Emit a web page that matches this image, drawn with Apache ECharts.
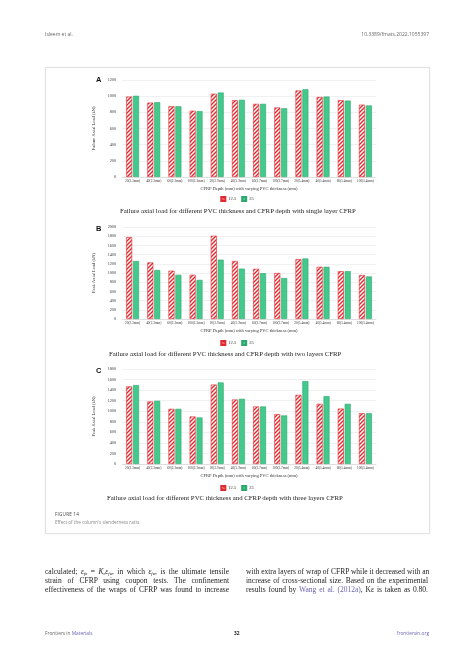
<!DOCTYPE html>
<html lang="en">
<head>
<meta charset="UTF-8">
<title>Figure 14 - slenderness ratio</title>
<script src="https://cdn.jsdelivr.net/npm/echarts@6/dist/echarts.min.js"></script>
<style>
  body { margin: 0; background: #fff; }
  #page { position: relative; width: 474px; height: 670px; overflow: hidden; }
  #chart { position: absolute; left: 0; top: 0; width: 474px; height: 670px; z-index: 1; }
  .box { position: absolute; left: 45px; top: 67px; width: 383px; height: 465px; border: 1px solid #e2e2e2; box-shadow: 0 0 2px rgba(0,0,0,0.06); }
  .t { position: absolute; white-space: nowrap; z-index: 2; }
  .sans { font-family: "Open Sans", "DejaVu Sans", sans-serif; }
  .serif { font-family: "Liberation Serif", "DejaVu Serif", serif; }
  .hdr { top: 31px; font-size: 5px; color: #666; }
  .panel { font-family: "Liberation Sans", Arial, sans-serif; font-weight: bold; font-size: 7.5px; color: #111; }
  .cap { font-size: 6.8px; color: #222; }
  .line { position: absolute; font-family: "Liberation Serif", "DejaVu Serif", serif; font-size: 7.5px; color: #222;
          text-align: justify; text-align-last: justify; white-space: nowrap; z-index: 2; line-height: 9px; }
  .line sub { font-size: 4.8px; vertical-align: -1.2px; line-height: 0; }
  .link { color: #6a66b0; }
  .foot { top: 630px; font-size: 4.8px; color: #666; }
</style>
</head>
<body>
<div id="page">
  <div class="box"></div>
  <div id="chart"></div>

  <div class="t sans hdr" style="left:45px;">Isleem et al.</div>
  <div class="t sans hdr" style="right:45px;">10.3389/fmats.2022.1055397</div>

  <div class="t panel" style="left:96px;top:75px;">A</div>
  <div class="t panel" style="left:96px;top:224px;">B</div>
  <div class="t panel" style="left:96px;top:366px;">C</div>

  <div class="t serif cap" style="left:120px;top:207px;">Failure axial load for different PVC thickness and CFRP depth with single layer CFRP</div>
  <div class="t serif cap" style="left:109px;top:350px;">Failure axial load for different PVC thickness and CFRP depth with two layers CFRP</div>
  <div class="t serif cap" style="left:107px;top:494px;">Failure axial load for different PVC thickness and CFRP depth with three layers CFRP</div>

  <div class="t sans" style="left:55px;top:511px;font-size:4.6px;color:#444;letter-spacing:0.2px;">FIGURE 14</div>
  <div class="t sans" style="left:55px;top:519px;font-size:4.6px;color:#888;">Effect of the column's slenderness ratio.</div>

  <div class="line" style="left:45px;top:567px;width:184px;">calculated; <i>ε<sub>fe</sub></i> = <i>K<sub>ε</sub>ε<sub>fu</sub></i>, in which <i>ε<sub>fu</sub></i>, is the ultimate tensile</div>
  <div class="line" style="left:45px;top:576px;width:184px;">strain of CFRP using coupon tests. The confinement</div>
  <div class="line" style="left:45px;top:585px;width:184px;">effectiveness of the wraps of CFRP was found to increase</div>
  <div class="line" style="left:246px;top:567px;width:182px;">with extra layers of wrap of CFRP while it decreased with an</div>
  <div class="line" style="left:246px;top:576px;width:182px;">increase of cross-sectional size. Based on the experimental</div>
  <div class="line" style="left:246px;top:585px;width:182px;">results found by <span class="link">Wang et al. (2012a)</span>, Kε is taken as 0.80.</div>

  <div class="t sans foot" style="left:45px;">Frontiers in <span class="link">Materials</span></div>
  <div class="t sans foot" style="left:234px;color:#222;font-weight:bold;">32</div>
  <div class="t sans foot" style="right:45px;color:#6a66b0;">frontiersin.org</div>
</div>

<script type="text/javascript">
  // categories: CFRP depth (PVC thickness)
  var cats = ['20(2.3mm)', '40(2.3mm)', '60(2.3mm)', '100(2.3mm)',
              '20(3.7mm)', '40(3.7mm)', '60(3.7mm)', '100(3.7mm)',
              '20(5.4mm)', '40(5.4mm)', '60(5.4mm)', '100(5.4mm)'];
  var seriesNames = ['12.5', '25'];

  // A - single layer CFRP
  var single125 = [995, 920, 875, 820, 1030, 950, 905, 860, 1070, 990, 950, 895];
  var single25  = [1005, 925, 875, 815, 1045, 955, 905, 850, 1085, 995, 945, 885];
  // B - two layers CFRP
  var two125 = [1780, 1230, 1050, 960, 1810, 1260, 1090, 1000, 1300, 1135, 1040, 955];
  var two25  = [1260, 1065, 960, 850, 1290, 1095, 995, 890, 1315, 1135, 1040, 925];
  // C - three layers CFRP
  var three125 = [1470, 1185, 1045, 900, 1505, 1222, 1090, 945, 1310, 1140, 1050, 962];
  var three25  = [1495, 1198, 1045, 882, 1545, 1235, 1090, 920, 1570, 1285, 1140, 962];

  var yMax = [1200, 2000, 1800];
  var yNames = ['Failure Axial Load (kN)', 'Peak Axial Load (kN)', 'Peak Axial Load (kN)'];

  // hatched red fill
  function hatch() {
    var c = document.createElement('canvas');
    c.width = 4; c.height = 4;
    var g = c.getContext('2d');
    g.fillStyle = '#ffffff';
    g.fillRect(0, 0, 4, 4);
    g.strokeStyle = '#e0282e';
    g.lineWidth = 1.4;
    g.beginPath();
    g.moveTo(0, 4); g.lineTo(4, 0);
    g.moveTo(-1, 1); g.lineTo(1, -1);
    g.moveTo(3, 5); g.lineTo(5, 3);
    g.stroke();
    return c;
  }
  var redFill = { image: hatch(), repeat: 'repeat' };
  var greenFill = '#43c98c';

  var tops = [80, 227, 369];
  var heights = [97, 92, 95];
  var legendTops = [196, 340, 485];
  var data = [[single125, single25], [two125, two25], [three125, three25]];

  var grids = [], xAxes = [], yAxes = [], legends = [], series = [];
  for (var i = 0; i < 3; i++) {
    grids.push({ left: 122, width: 254, top: tops[i], height: heights[i], containLabel: false });
    xAxes.push({
      type: 'category', gridIndex: i, data: cats,
      axisTick: { show: false },
      axisLine: { lineStyle: { color: '#d4d4d4', width: 0.6 } },
      axisLabel: { interval: 0, fontSize: 3.4, margin: 2.5, color: '#333', fontFamily: 'Liberation Serif' },
      name: 'CFRP Depth (mm) with varying PVC thickness (mm)',
      nameLocation: 'middle', nameGap: 9,
      nameTextStyle: { fontSize: 4.5, color: '#333', fontFamily: 'Liberation Serif' }
    });
    yAxes.push({
      type: 'value', gridIndex: i, min: 0, max: yMax[i], interval: 200,
      axisLine: { show: false }, axisTick: { show: false },
      splitLine: { lineStyle: { color: '#e6e6e6', width: 0.6 } },
      axisLabel: { fontSize: 4.2, margin: 6, color: '#333', fontFamily: 'Liberation Serif',
                   formatter: function (v) { return String(v); } },
      name: yNames[i], nameLocation: 'middle', nameGap: 16,
      nameTextStyle: { fontSize: 4.5, color: '#333', fontFamily: 'Liberation Serif' }
    });
    legends.push({
      data: seriesNames, top: legendTops[i], left: 'center', padding: 0,
      itemWidth: 4, itemHeight: 4, itemGap: 5, icon: 'rect',
      textStyle: { fontSize: 4.5, color: '#333', fontFamily: 'Liberation Serif', padding: [0, 0, 0, -2] }
    });
    series.push({
      name: seriesNames[0], type: 'bar', xAxisIndex: i, yAxisIndex: i,
      data: data[i][0], barWidth: 6, barGap: '15%',
      itemStyle: { color: redFill, borderColor: '#e0282e', borderWidth: 0.6 }
    });
    series.push({
      name: seriesNames[1], type: 'bar', xAxisIndex: i, yAxisIndex: i,
      data: data[i][1], barWidth: 6, barGap: '15%',
      itemStyle: { color: greenFill, borderColor: '#2fa66e', borderWidth: 0.6 }
    });
  }

  var myChart = echarts.init(document.getElementById('chart'));
  myChart.setOption({
    animation: false,
    grid: grids, xAxis: xAxes, yAxis: yAxes, legend: legends, series: series
  });
</script>
</body>
</html>
